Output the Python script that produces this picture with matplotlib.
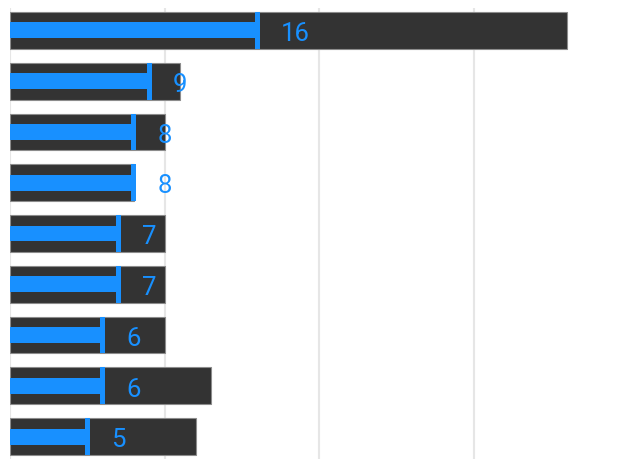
import matplotlib.pyplot as plt
import numpy as np

values = [16, 9, 8, 8, 7, 7, 6, 6, 5]
totals = [36, 11, 10, 8, 10, 10, 10, 13, 12]
labels = [str(v) for v in values]

blue = '#1890ff'
dark = '#333333'

fig = plt.figure(figsize=(6.24, 4.6), dpi=100)
ax = fig.add_axes([10 / 624, 0, 614 / 624, 451 / 460])

y = np.arange(len(values))
ax.barh(y, totals, height=0.725, color=dark, edgecolor='#8c8c8c', linewidth=0.8, zorder=2)
ax.barh(y, values, height=0.31, color=blue, zorder=3)
ax.barh(y, [0.32] * len(values), left=[v - 0.16 for v in values], height=0.725,
        color=blue, zorder=4)

for yi, v, lab in zip(y, values, labels):
    ax.annotate(lab, (v, yi), xytext=(17, -2), textcoords='offset points',
                ha='left', va='center', color=blue, fontsize=18.5,
                family=['Roboto', 'DejaVu Sans'], zorder=5)

ax.set_xlim(0, 614 / 15.47)
ax.set_ylim(8.44, -0.44)
ax.set_xticks([0, 10, 20, 30])
ax.grid(axis='x', color='#e6e6e6', linewidth=1.5, zorder=0)
ax.tick_params(left=False, bottom=False, labelleft=False, labelbottom=False)
for s in ax.spines.values():
    s.set_visible(False)

fig.savefig('out.png', dpi=100)
